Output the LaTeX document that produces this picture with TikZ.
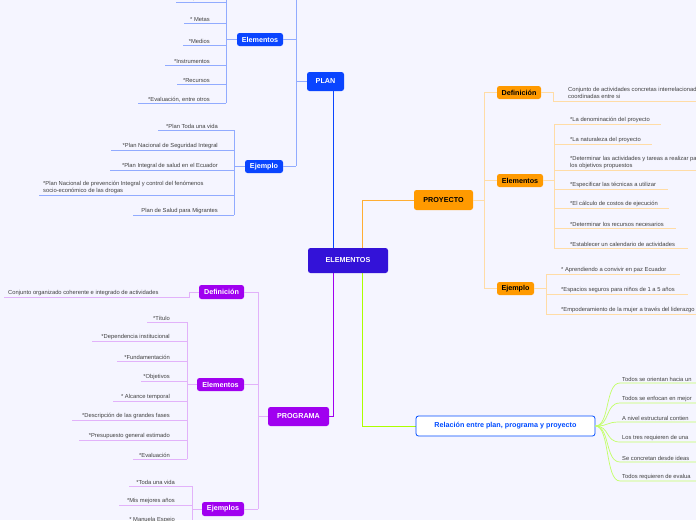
\documentclass[tikz,border=0pt]{standalone}
\usepackage{fontspec}
\setmainfont{Liberation Sans}
\definecolor{cpur}{HTML}{A000F0}
\definecolor{cind}{HTML}{3312D8}
\definecolor{cblu}{HTML}{0A45FF}
\definecolor{cora}{HTML}{FF9A00}
\begin{document}
\begin{tikzpicture}[x=1pt,y=-1pt,
 leaf/.style={font=\fontsize{5.8}{6.8}\selectfont, text=black!75, inner sep=1pt, align=left},
 box/.style={rounded corners=2.5pt, font=\bfseries\fontsize{7.2}{8.5}\selectfont, text=white, inner sep=0pt},
 pl/.style={draw=cblu!45!white, line width=0.7pt},
 pr/.style={draw=cora!35!white, line width=0.7pt},
 pg/.style={draw=cpur!30!white, line width=0.7pt},
 gr/.style={draw=lime!80!green!60!white, line width=0.7pt}]
\useasboundingbox (0,0) rectangle (696,520);
\fill[blue!4!white] (0,0) rectangle (696,520);
\clip (0,0) rectangle (696,520);
% trunks
\draw[cblu, line width=1pt] (333,91) -- (333,248);
\draw[cora!80, line width=0.8pt] (362,248) -- (362,200) -- (414,200);
\draw[lime!90!green, line width=0.8pt] (362,262) -- (362,426) -- (416,426);
\draw[cpur, line width=1pt] (333,273) -- (333,416) -- (329,416);
% center
\node[box, fill=cind, minimum width=80, minimum height=25] (c) at (348,260.5) {ELEMENTOS};
% PLAN
\node[box, fill=cblu, minimum width=37, minimum height=19] (plan) at (325.5,81.5) {PLAN};
\draw[pl] (plan.west) -- (296,81.5); \draw[pl] (296,0) -- (296,166);
\node[box, fill=cblu, minimum width=46, minimum height=13] (pe) at (260,39.5) {Elementos};
\node[box, fill=cblu, minimum width=38, minimum height=13] (pj) at (264,166.5) {Ejemplo};
\draw[pl] (pe.east) -- (296,39.5); \draw[pl] (pj.east) -- (296,166.5);
\draw[pl] (226,0) -- (226,103); \draw[pl] (226,39.5) -- (pe.west);
\foreach \y/\xs/\t in {2/176/*Objetivos, 23/184/*\ Metas, 45/183/*Medios, 65/165/*Instrumentos, 84/177/*Recursos, 103/138/{*Evaluación, entre otros}}{
 \draw[pl] (\xs,\y) -- (226,\y); \node[leaf,anchor=south east] at (211,\y) {\t};}
\draw[pl] (234,130) -- (234,215); \draw[pl] (234,166.5) -- (pj.west);
\foreach \y/\xs in {130/158, 150/111, 170/110, 195/39, 215/133}{
 \draw[pl] (\xs,\y) -- (234,\y);}
\node[leaf,anchor=south east] at (219,130) {*Plan Toda una vida};
\node[leaf,anchor=south east] at (219,150) {*Plan Nacional de Seguridad Integral};
\node[leaf,anchor=south east] at (219,170) {*Plan Integral de salud en el Ecuador};
\node[leaf,anchor=south west] at (42,195) {*Plan Nacional de prevención Integral y control del fenómenos\\socio-económico de las drogas};
\node[leaf,anchor=south east] at (219,215) {Plan de Salud para Migrantes};
% PROYECTO
\node[box, fill=cora, text=black, minimum width=59, minimum height=20] (pro) at (443.5,200) {PROYECTO};
\draw[pr] (pro.east) -- (484,200); \draw[pr] (484,92) -- (484,288);
\node[box, fill=cora, text=black, minimum width=44, minimum height=13] (rd) at (519,92.5) {Definición};
\node[box, fill=cora, text=black, minimum width=46, minimum height=13] (re) at (520,180.5) {Elementos};
\node[box, fill=cora, text=black, minimum width=37, minimum height=13] (rj) at (515.5,288.5) {Ejemplo};
\foreach \n/\y in {rd/92.5,re/180.5,rj/288.5} \draw[pr] (484,\y) -- (\n.west);
\draw[pr] (rd.east) -- (553,92.5) -- (553,101) -- (696,101);
\node[leaf,anchor=south west] at (567,100) {Conjunto de actividades  concretas interrelacionadas y\\coordinadas entre si};
\draw[pr] (re.east) -- (554,180.5); \draw[pr] (554,124) -- (554,248);
\foreach \y/\xe/\t in {124/661/*La denominación del proyecto, 144/652/*La naturaleza del proyecto, 189/668/*Especificar las técnicas a utilizar, 208/669/*El cálculo de costos de ejecución, 228/676/*Determinar los recursos necesarios, 248/688/*Establecer un calendario de actividades}{
 \draw[pr] (554,\y) -- (\xe,\y); \node[leaf,anchor=south west] at (569,\y) {\t};}
\draw[pr] (554,170) -- (696,170);
\node[leaf,anchor=south west] at (569,170) {*Determinar las actividades y tareas a realizar para alcanzar\\los objetivos propuestos};
\draw[pr] (rj.east) -- (546,288.5); \draw[pr] (546,274) -- (546,314);
\foreach \y/\xe/\t in {274/680/*\ Aprendiendo a convivir en paz Ecuador, 294/688/*Espacios seguros para niños de 1 a 5 años, 314/696/*Empoderamiento de la mujer a través del liderazgo}{
 \draw[pr] (546,\y) -- (\xe,\y); \node[leaf,anchor=south west] at (560,\y) {\t};}
% RELACION
\node[draw=blue!70!cyan, line width=0.8pt, fill=white, rounded corners=2.5pt, text=blue!70!cyan, font=\bfseries\fontsize{7.2}{8.5}\selectfont, minimum width=179, minimum height=20, inner sep=0pt] (rel) at (505.5,426) {Relación entre plan, programa y proyecto};
\foreach \y/\t in {383/Todos se orientan hacia un, 403/Todos se enfocan en mejor, 422/A nivel estructural contien, 442/Los tres requieren de una, 462/Se concretan desde ideas, 481/Todos requieren de evalua}{
 \draw[gr] (rel.east) .. controls (610,426) and (605,\y) .. (620,\y) -- (696,\y); \node[leaf,anchor=south west] at (621,\y) {\t};}
% PROGRAMA
\node[box, fill=cpur, minimum width=61, minimum height=19] (pg) at (298.5,416.5) {PROGRAMA};
\draw[pg] (pg.west) -- (258,416.5); \draw[pg] (258,292) -- (258,509);
\node[box, fill=cpur, minimum width=45, minimum height=14] (gd) at (221.5,292) {Definición};
\node[box, fill=cpur, minimum width=47, minimum height=13] (ge) at (220.5,384.5) {Elementos};
\node[box, fill=cpur, minimum width=42, minimum height=14] (gj) at (223,509) {Ejemplos};
\foreach \n/\y in {gd/292,ge/384.5,gj/509} \draw[pg] (\n.east) -- (258,\y);
\draw[pg] (gd.west) -- (189,292) -- (189,297) -- (4,297);
\node[leaf,anchor=south west] at (7,297) {Conjunto organizado coherente  e integrado de actividades};
\draw[pg] (ge.west) -- (187,384.5); \draw[pg] (187,322) -- (187,459);
\foreach \y/\xs/\t in {322/147/*Título, 341/92/*Dependencia institucional, 361/117/*Fundamentación, 381/141/*Objetivos, 401/113/*\ Alcance temporal, 420/72/*Descripción de las grandes fases, 440/79/*Presupuesto general estimado, 459/133/*Evaluación}{
 \draw[pg] (\xs,\y) -- (187,\y); \node[leaf,anchor=south east] at (171,\y) {\t};}
\draw[pg] (gj.west) -- (192,509); \draw[pg] (192,486) -- (192,520);
\foreach \y/\xs/\t in {486/129/*Toda una vida, 505/119/*Mis mejores años, 524/125/*\ Manuela Espejo}{
 \draw[pg] (\xs,\y) -- (192,\y); \node[leaf,anchor=south east] at (176,\y) {\t};}
\end{tikzpicture}
\end{document}
